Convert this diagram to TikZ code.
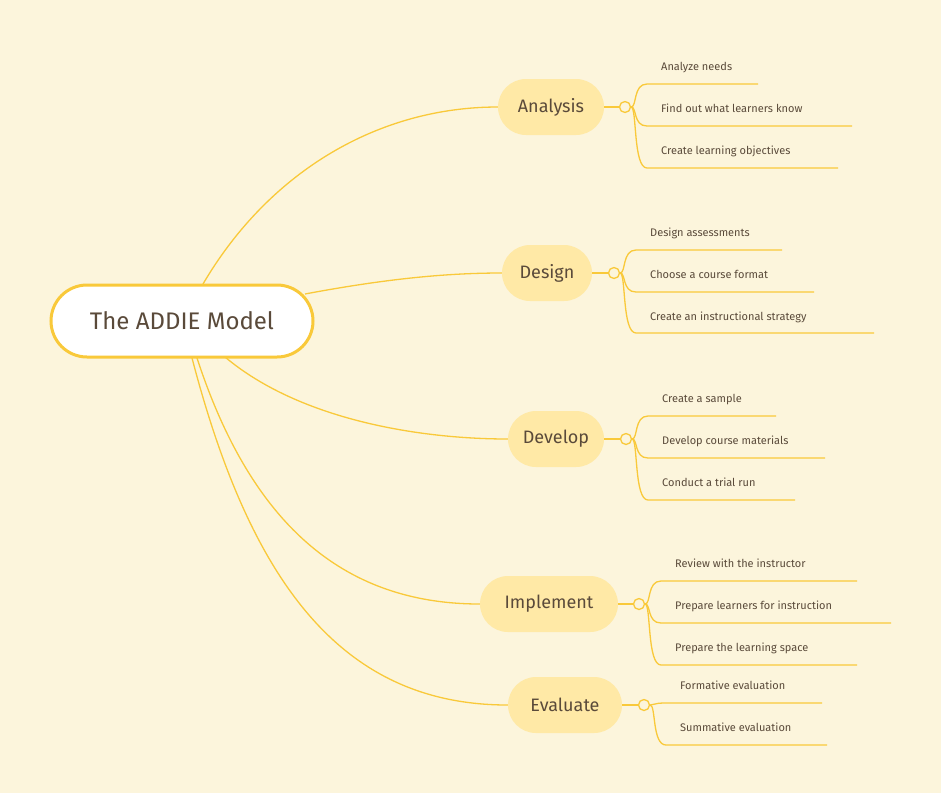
\documentclass[tikz,border=0pt]{standalone}
\usepackage{fontspec}
\setmainfont{Fira Sans}
\definecolor{bg}{HTML}{FCF5DC}
\definecolor{ln}{HTML}{F9C93A}
\definecolor{bf}{HTML}{FFE9A6}
\definecolor{tx}{HTML}{5A4A3A}
\begin{document}
\begin{tikzpicture}[x=1pt,y=-1pt,
  conn/.style={draw=ln,line width=1.3pt},
  root/.style={draw=ln,line width=3pt,fill=white,rounded corners=36pt,minimum width=262pt,minimum height=72pt,text=tx,font=\fontsize{24}{28}\selectfont},
  branch/.style={fill=bf,rounded corners=28pt,minimum height=56pt,text=tx,font=\fontsize{18}{22}\selectfont},
  leaf/.style={anchor=base west,inner sep=0pt,text=tx,font=\fontsize{11}{13}\selectfont},
  dot/.style={circle,draw=ln,line width=1.3pt,fill=bg,inner sep=0pt,minimum size=11pt}]
\fill[bg] (0,0) rectangle (941,793);
\useasboundingbox (0,0) rectangle (941,793);
\node[root] (r) at (182,321) {The ADDIE Model};
\node[branch,minimum width=106pt] (b1) at (551,107) {Analysis};
\node[branch,minimum width=90pt] (b2) at (547,273) {Design};
\node[branch,minimum width=96pt] (b3) at (556,439) {Develop};
\node[branch,minimum width=138pt] (b4) at (549,604) {Implement};
\node[branch,minimum width=114pt] (b5) at (565,705) {Evaluate};
\coordinate (r1) at (203,284);
\coordinate (r2) at (305,294);
\coordinate (r3) at (225,357);
\coordinate (r4) at (197,358);
\coordinate (r5) at (192,358);
\draw[conn] (r1) .. controls (270,170) and (380,107) .. (b1.west);
\draw[conn] (r2) .. controls (390,278) and (450,273) .. (b2.west);
\draw[conn] (r3) .. controls (300,420) and (420,439) .. (b3.west);
\draw[conn] (r4) .. controls (250,520) and (340,604) .. (b4.west);
\draw[conn] (r5) .. controls (250,580) and (340,705) .. (b5.west);
\foreach \b/\cx/\cy/\tx/\list in {
  1/625/107/661/{66/84/758/Analyze needs,108/126/852/Find out what learners know,150/168/838/Create learning objectives},
  2/614/273/650/{232/250/782/Design assessments,274/292/814/Choose a course format,316/333/874/Create an instructional strategy},
  3/626/439/662/{398/416/776/Create a sample,440/458/825/Develop course materials,482/500/795/Conduct a trial run},
  4/639/604/675/{563/581/857/Review with the instructor,605/623/891/Prepare learners for instruction,647/665/857/Prepare the learning space},
  5/644/705/680/{685/703/822/Formative evaluation,727/745/827/Summative evaluation}} {
  \node[dot] (c\b) at (\cx,\cy) {};
  \draw[conn] (b\b.east) -- (c\b.west);
  \foreach \ty/\ly/\ex/\t [count=\i] in \list {
    \node[leaf] (l\b\i) at (\tx,\ty+4) {\t};
    \coordinate (e\b\i) at (\ex,\ly);
    \draw[conn] (c\b.east) .. controls (\cx+12,\cy) and (\cx+8,\ly) .. (\cx+22,\ly) -- (e\b\i);
  }
}
\end{tikzpicture}
\end{document}
